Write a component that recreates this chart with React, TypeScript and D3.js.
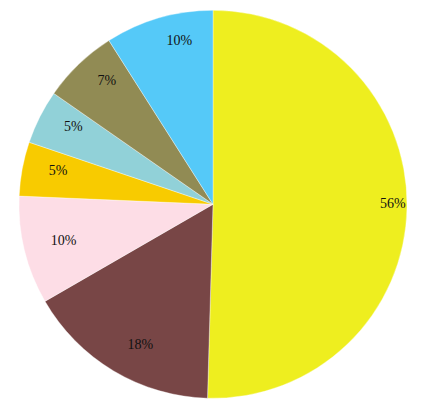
import React from "react";
import * as d3 from "d3";

const categories = ["A", "B", "C", "D", "E", "F", "G"];
const values = [56, 18, 10, 5, 5, 7, 10];
const labels = ["56%", "18%", "10%", "5%", "5%", "7%", "10%"];
const colors = ["#EEEE1F", "#784646", "#FDDDE6", "#F8CB00", "#91D1D8", "#918B54", "#55C9F8"];

const W = 444;
const H = 403;
const CX = 213;
const CY = 204.3;
const R = 194;
const LABEL_R = 167;

export default function App() {
  const data = categories.map((c, i) => ({ c, v: values[i], label: labels[i], color: colors[i] }));
  const pie = d3.pie<any>().value((d) => d.v).sort(null).startAngle(0).endAngle(2 * Math.PI);
  const arcs = pie(data);
  const arc = d3.arc<any>().innerRadius(0).outerRadius(R);
  return (
    <svg width={W} height={H} style={{ position: "absolute", left: 0, top: 0 }}>
      <g transform={`translate(${CX},${CY})`}>
        {arcs.map((a, i) => (
          <path key={i} d={arc(a) as string} fill={a.data.color} stroke="#ffffff" strokeWidth={0.6} strokeOpacity={0.6} />
        ))}
        {arcs.map((a, i) => {
          const mid = (a.startAngle + a.endAngle) / 2;
          const x = LABEL_R * Math.sin(mid);
          const y = -LABEL_R * Math.cos(mid);
          return (
            <text
              key={"t" + i}
              x={x}
              y={y}
              dy="0.1em"
              textAnchor="start"
              fontFamily="'Liberation Serif', 'Times New Roman', serif"
              fontSize={14}
              fill="#111"
            >
              {a.data.label}
            </text>
          );
        })}
      </g>
    </svg>
  );
}
